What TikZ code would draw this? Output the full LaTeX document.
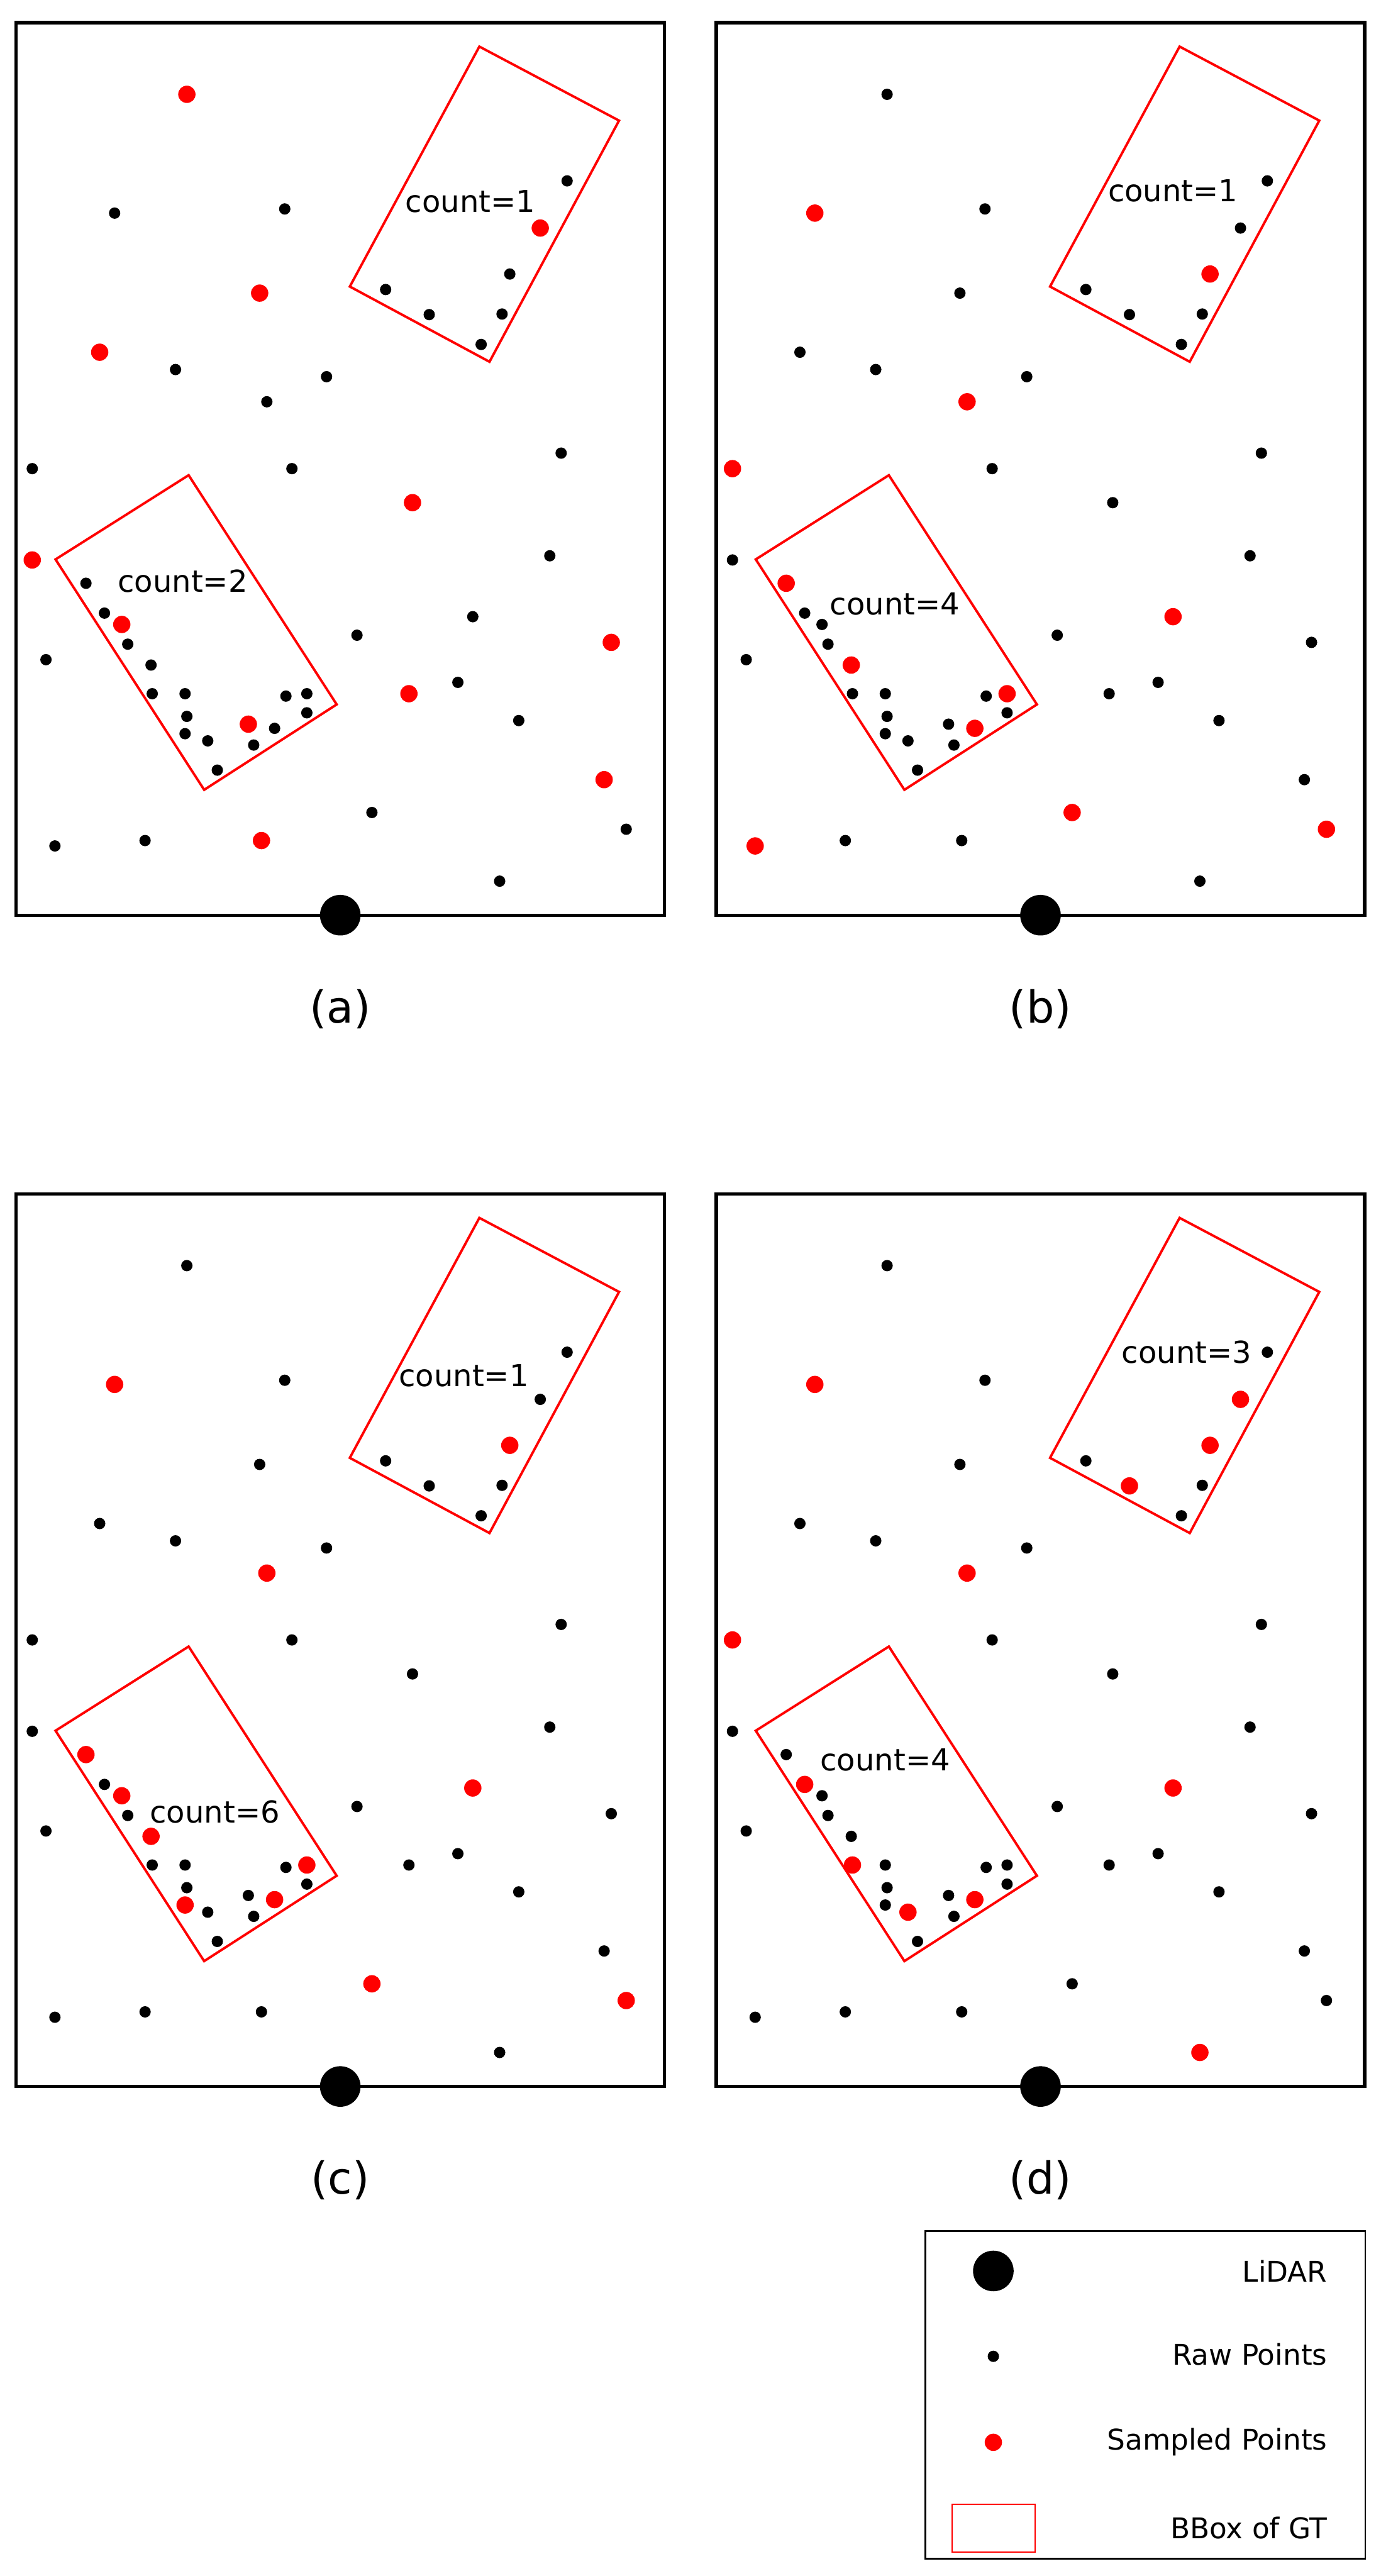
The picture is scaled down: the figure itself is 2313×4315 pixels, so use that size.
\documentclass[tikz,border=0pt]{standalone}
\usepackage{fontspec}
\setmainfont{DejaVu Sans}
\definecolor{samplered}{HTML}{FF0000}
\usepackage{tikz}

% point cloud, same in every panel: index/x/y (panel top-left is origin)
\newcommand{\cloudpts}{1/286/120, 2/165/319, 3/450/312, 4/408/453,
  5/140/552, 6/267/581, 7/520/593, 8/420/635, 9/27/747, 10/462/747,
  11/913/721, 12/664/804, 13/27/900, 14/894/893, 15/878/344, 16/923/265,
  17/827/421, 18/619/447, 19/692/489, 20/779/539, 21/814/488, 22/765/995,
  23/571/1026, 24/740/1105, 25/842/1169, 26/658/1124, 27/997/1038,
  28/985/1268, 29/1022/1351, 30/596/1323, 31/810/1438, 32/65/1379,
  33/216/1370, 34/411/1370, 35/50/1067, 36/117/939, 37/148/989,
  38/177/1008, 39/187/1041, 40/226/1076, 41/228/1124, 42/283/1124,
  43/286/1162, 44/283/1191, 45/321/1203, 46/337/1252, 47/398/1210,
  48/389/1175, 49/433/1182, 50/452/1128, 51/487/1124, 52/487/1156}

% #1 = indices of the sampled points
\newcommand{\drawcloud}[1]{%
  \foreach \i/\px/\py in \cloudpts {%
    \gdef\ptstyle{raw}\gdef\ptrad{9.5}%
    \foreach \r in {#1} {\ifnum\r=\i\relax\gdef\ptstyle{sampled}\gdef\ptrad{14.5}\fi}%
    \fill[\ptstyle] (\px,\py) circle[radius=\ptrad];
  }}

% frame, GT boxes and LiDAR of one panel
\newcommand{\panelbase}{%
  \draw[frame] (0,0) rectangle (1086,1495);
  \draw[gtbox] (776,40) -- (1010,164) -- (793,568) -- (559,442) -- cycle;
  \draw[gtbox] (289,758) -- (537,1142) -- (315,1285) -- (66,899) -- cycle;
  \fill[black] (543,1495) circle[radius=34];
}

\begin{document}
\begin{tikzpicture}[x=0.01cm, y=-0.01cm,
  frame/.style={draw=black, line width=1.6pt},
  gtbox/.style={draw=samplered, line width=1.15pt},
  raw/.style={fill=black},
  sampled/.style={fill=samplered},
  cnt/.style={font=\fontsize{14.4}{17}\selectfont, anchor=base, inner sep=0pt},
  sub/.style={font=\fontsize{21}{25}\selectfont, anchor=base, inner sep=0pt},
  leg/.style={font=\fontsize{13.6}{16}\selectfont, anchor=base east, inner sep=0pt}
]
  \useasboundingbox (0,0) rectangle (2313,4315);

  %% (a)
  \begin{scope}[shift={(27,38)}]
    \drawcloud{1,4,5,12,13,15,26,27,28,34,38,48}
    \panelbase
    \node[cnt] (a-cnt1) at (761,318) {count=1};
    \node[cnt] (a-cnt2) at (279,954) {count=2};
    \node[sub] (a-lbl) at (543,1675) {(a)};
  \end{scope}

  %% (b)
  \begin{scope}[shift={(1200,38)}]
    \drawcloud{2,8,9,17,22,29,30,32,36,40,49,51}
    \panelbase
    \node[cnt] (b-cnt1) at (765,300) {count=1};
    \node[cnt] (b-cnt2) at (299,992) {count=4};
    \node[sub] (b-lbl) at (543,1675) {(b)};
  \end{scope}

  %% (c)
  \begin{scope}[shift={(27,2000)}]
    \drawcloud{2,8,17,22,29,30,36,38,40,44,49,51}
    \panelbase
    \node[cnt] (c-cnt1) at (750,322) {count=1};
    \node[cnt] (c-cnt2) at (333,1053) {count=6};
    \node[sub] (c-lbl) at (543,1675) {(c)};
  \end{scope}

  %% (d)
  \begin{scope}[shift={(1200,2000)}]
    \drawcloud{2,8,9,15,17,19,22,31,37,41,45,49}
    \panelbase
    \node[cnt] (d-cnt1) at (788,283) {count=3};
    \node[cnt] (d-cnt2) at (283,966) {count=4};
    \node[sub] (d-lbl) at (543,1675) {(d)};
  \end{scope}

  %% legend
  \draw[black, line width=0.85pt] (1550,3737) rectangle (2287,4286);
  \fill[black] (1664,3804) circle[radius=34];
  \fill[raw] (1664,3947) circle[radius=9.5];
  \fill[sampled] (1664,4091) circle[radius=14.5];
  \draw[samplered, line width=0.4pt] (1595,4195) rectangle (1734,4275);
  \node[leg] (leg-lidar) at (2224,3822) {LiDAR};
  \node[leg] (leg-raw) at (2224,3961) {Raw Points};
  \node[leg] (leg-samp) at (2224,4104) {Sampled Points};
  \node[leg] (leg-gt) at (2224,4252) {BBox of GT};
\end{tikzpicture}
\end{document}
